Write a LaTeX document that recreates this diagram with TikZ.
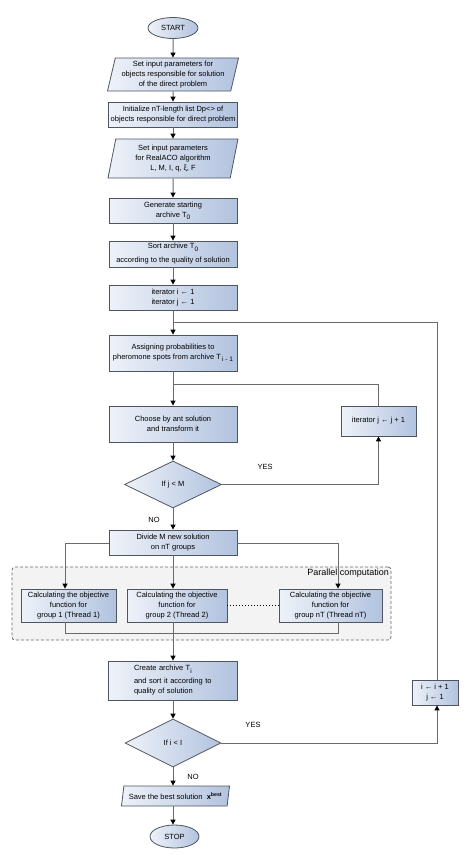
\documentclass[tikz,border=0pt]{standalone}
\usepackage{fontspec}
\setmainfont{Liberation Sans}
\usetikzlibrary{shapes.geometric,arrows.meta}
\definecolor{boxL}{HTML}{EEF2F9}
\definecolor{boxR}{HTML}{B2C3DF}
\definecolor{edge}{HTML}{4F5560}
\definecolor{lin}{HTML}{6A6A6A}
\definecolor{parfill}{HTML}{F3F3F3}
\newcommand{\lowsub}[1]{\raisebox{-2.2pt}{\fontsize{6.5}{7}\selectfont #1}}
\tikzset{
  base/.style={draw=edge, line width=0.8pt, left color=boxL, right color=boxR,
    align=center, inner sep=1pt, font=\fontsize{7.5}{10}\selectfont},
  box/.style={base, rectangle},
  io/.style={base, trapezium, trapezium left angle=75, trapezium right angle=105,
    trapezium stretches body},
  term/.style={base, ellipse},
  dec/.style={base, diamond},
  arr/.style={draw=lin, line width=1pt, -{Triangle[length=5pt,width=5pt,color=black]}},
  ln/.style={draw=lin, line width=1pt},
  lbl/.style={font=\fontsize{7.5}{9}\selectfont, inner sep=0pt},
}
\begin{document}
\begin{tikzpicture}[x=1pt,y=-1pt]
\useasboundingbox (0,0) rectangle (474,859);
% parallel region
\node[draw=lin, dash pattern=on 3pt off 2pt, line width=0.8pt, fill=parfill, rounded corners=3pt,
  minimum width=379pt, minimum height=73pt, inner sep=0pt] (par) at (201.5,603.5) {};
\node[anchor=north east, inner sep=0pt, font=\fontsize{9}{10}\selectfont] (parlbl) at (389,569) {Parallel computation};

\node[term, minimum width=50pt, minimum height=21pt] (start) at (173,28) {START};
\node[io, minimum width=131pt, minimum height=33pt] (p1) at (173,74.5)
  {Set input parameters for\\objects responsible for solution\\of the direct problem};
\node[box, minimum width=129pt, minimum height=25pt] (init) at (173,114.5)
  {Initialize nT-length list Dp<> of\\objects responsible for direct problem};
\node[io, minimum width=130pt, minimum height=39pt] (p2) at (173,158.5)
  {Set input parameters\\for RealACO algorithm\\L, M, I, q, ξ, F};
\node[box, minimum width=128pt, minimum height=25pt] (gen) at (173,210.5)
  {Generate starting\\archive T\lowsub{0}};
\node[box, minimum width=128pt, minimum height=26pt] (sort) at (173,254)
  {Sort archive T\lowsub{0}\\[4pt]according to the quality of solution};
\node[box, minimum width=128pt, minimum height=25pt] (iter) at (173,297.5)
  {iterator i ← 1\\iterator j ← 1};
\node[box, minimum width=128pt, minimum height=36pt] (assign) at (173,353)
  {Assigning probabilities to\\pheromone spots from archive T\,\lowsub{i - 1}};
\node[box, minimum width=128pt, minimum height=36pt] (choose) at (173,424)
  {Choose by ant solution\\and transform it};
\node[box, minimum width=75pt, minimum height=30pt] (incj) at (378.5,421)
  {iterator j ← j + 1};
\node[dec, minimum width=97pt, minimum height=47pt, inner sep=0pt] (dj) at (173,484.5) {If j < M};
\node[box, minimum width=128pt, minimum height=25pt] (divide) at (173,542.5)
  {Divide M new solution\\on nT groups};
\node[box, minimum width=95pt, minimum height=33pt] (t1) at (68.5,605.5)
  {Calculating the objective\\function for\\group 1 (Thread 1)};
\node[box, minimum width=100pt, minimum height=33pt] (t2) at (177,605.5)
  {Calculating the objective\\function for\\group 2 (Thread 2)};
\node[box, minimum width=103pt, minimum height=33pt] (tn) at (330.5,605.5)
  {Calculating the objective\\function for\\group nT (Thread nT)};
\node[box, minimum width=129pt, minimum height=39pt, text width=78pt, align=left] (create) at (173,680.5)
  {Create archive T\lowsub{i}\\[3pt]and sort it according to\\quality of solution};
\node[box, minimum width=46pt, minimum height=25pt] (inci) at (435,692.5)
  {i ← i + 1\\j ← 1};
\node[dec, minimum width=96pt, minimum height=48pt, inner sep=0pt] (di) at (173,743) {If i < I};
\node[io, minimum width=108pt, minimum height=20pt] (save) at (175.5,796)
  {Save the best solution \ \textbf{x}\textsuperscript{\textbf{best}}};
\node[term, minimum width=49pt, minimum height=23pt] (stop) at (174.5,836.5) {STOP};

\node[lbl] (yes1) at (265,467) {YES};
\node[lbl] (no1) at (154,520) {NO};
\node[lbl] (yes2) at (253,725) {YES};
\node[lbl] (no2) at (193,777) {NO};

\coordinate (jo) at (173,322);
\coordinate (jn) at (173,384);
\coordinate (d1) at (65,543);
\coordinate (dn) at (338,543);
\coordinate (c1) at (65,633);
\coordinate (cn) at (338,633);
\coordinate (cm) at (173,633);

\draw[arr] (start) -- (p1);
\draw[arr] (p1) -- (init);
\draw[arr] (init) -- (p2);
\draw[arr] (p2) -- (gen);
\draw[arr] (gen) -- (sort);
\draw[arr] (sort) -- (iter);
\draw[arr] (iter) -- (assign);
\draw[ln] (inci.north -| 437,0) |- (jo);
\draw[arr] (assign) -- (choose);
\draw[ln] (incj.north) |- (jn);
\draw[arr] (choose) -- (dj);
\draw[arr] (dj.east) -| (incj.south);
\draw[arr] (dj) -- (divide);
\draw[arr] (divide.west |- d1) -- (d1) -- (d1 |- t1.north);
\draw[arr] (divide.east |- dn) -- (dn) -- (dn |- tn.north);
\draw[arr] (divide.south) -- (divide.south |- t2.north);
\draw[line width=1pt, dotted] (t2.east) -- (tn.west);
\draw[ln] (c1 |- t1.south) -- (c1) -- (cn) -- (cn |- tn.south);
\draw[arr] (cm |- t2.south) -- (create);
\draw[arr] (create) -- (di);
\draw[arr] (di.east) -| (inci.south -| 437,0);
\draw[arr] (di) -- (save.north -| di);
\draw[arr] (save.south -| di) -- (stop.north -| di);
\end{tikzpicture}
\end{document}
